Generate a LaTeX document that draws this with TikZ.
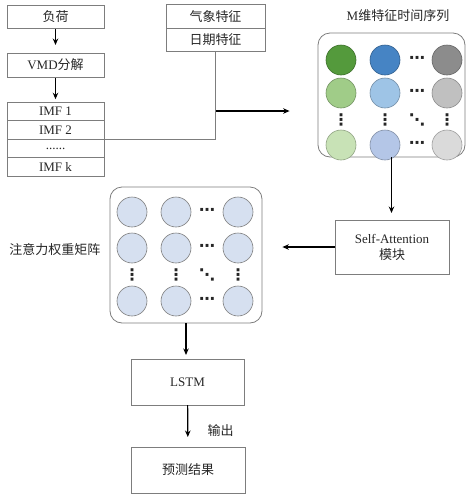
\documentclass[tikz,border=0pt]{standalone}
\usepackage{fontspec}
\setmainfont{Liberation Serif}
\newfontfamily\cjk{Noto Sans CJK SC}
\newfontfamily\dotfont{DejaVu Sans}
\usepackage{tikz}
\usetikzlibrary{arrows.meta, positioning, calc}
\definecolor{boxline}{RGB}{125, 125, 125}
\definecolor{green1}{RGB}{84, 154, 60}
\definecolor{green2}{RGB}{160, 204, 136}
\definecolor{green3}{RGB}{200, 226, 182}
\definecolor{blue1}{RGB}{70, 132, 196}
\definecolor{blue2}{RGB}{158, 196, 230}
\definecolor{blue3}{RGB}{180, 198, 231}
\definecolor{gray1}{RGB}{140, 140, 140}
\definecolor{gray2}{RGB}{192, 192, 192}
\definecolor{gray3}{RGB}{218, 218, 218}
\definecolor{weight}{RGB}{214, 224, 240}

\begin{document}
\begin{tikzpicture}[
    x=1pt, y=-1pt,
    >={Stealth[length=6.5pt, width=5.5pt]},
    every node/.style={font=\fontsize{13}{16}\selectfont, text=black!85},
    stepbox/.style={rectangle, draw=boxline, line width=0.8pt, outer sep=0pt, inner sep=0pt, minimum width=#1, align=center},
    cell/.style={stepbox=97, minimum height=18.5},
    frame/.style={rectangle, rounded corners=12pt, draw=boxline, line width=0.8pt, inner sep=0pt},
    ball/.style={circle, draw=#1!72!black, fill=#1, line width=0.6pt, minimum size=30, inner sep=0pt},
    dotnode/.style={inner sep=0pt, font=\fontsize{16}{16}\dotfont\bfseries},
    arrow/.style={->, line width=1.2pt, black},
    link/.style={line width=0.8pt, boxline}
  ]
  \useasboundingbox (0,0) rectangle (474,499);

  % Input side
  \node[stepbox=97, minimum height=23] (load) at (55.5,16.5) {\cjk 负荷};
  \node[stepbox=97, minimum height=24] (vmd) at (55.5,65) {VMD{\cjk 分解}};
  \node[cell] (imf1) at (55.5,111.5) {IMF 1};
  \node[cell, below=0pt of imf1] (imf2) {IMF 2};
  \node[cell, below=0pt of imf2] (imfd) {......};
  \node[cell, below=0pt of imfd] (imfk) {IMF k};

  \node[stepbox=99, minimum height=23.5] (weather) at (215.5,16.5) {\cjk 气象特征};
  \node[stepbox=99, minimum height=23.5, below=0pt of weather] (date) {\cjk 日期特征};

  % M-dim feature matrix
  \node[frame, minimum width=147, minimum height=124] (feat) at (391.5,95) {};
  \node (feattitle) at (398,16) {M{\cjk 维特征时间序列}};
  \foreach \r/\y in {1/60,2/93,3/145}
    \foreach \c/\x/\h in {1/341/green,2/385/blue,3/447/gray}
      \node[ball=\h\r] (m\r\c) at (\x,\y) {};
  \node[dotnode] (mh1) at (417,60) {⋯};
  \node[dotnode] (mh2) at (417,93) {⋯};
  \node[dotnode] (mh3) at (417,145) {⋯};
  \node[dotnode] (mv1) at (341,120) {⋮};
  \node[dotnode] (mv2) at (385,120) {⋮};
  \node[dotnode] (mv3) at (447,120) {⋮};
  \node[dotnode] (mdd) at (417,120) {⋱};

  % Attention
  \node[stepbox=114, minimum height=54] (sa) at (392,247) {Self-Attention\\{\cjk 模块}};

  \node[frame, minimum width=152, minimum height=136] (att) at (186,255) {};
  \foreach \r/\y in {1/212,2/248,3/301}
    \foreach \c/\x in {1/132,2/176,3/238}
      \node[ball=weight, draw=boxline] (a\r\c) at (\x,\y) {};
  \node[dotnode] (ah1) at (207,212) {⋯};
  \node[dotnode] (ah2) at (207,248) {⋯};
  \node[dotnode] (ah3) at (207,301) {⋯};
  \node[dotnode] (av1) at (132,274.5) {⋮};
  \node[dotnode] (av2) at (176,274.5) {⋮};
  \node[dotnode] (av3) at (238,274.5) {⋮};
  \node[dotnode] (add) at (207,274.5) {⋱};
  \node[anchor=east] (attlabel) at (104,250) {\cjk 注意力权重矩阵};

  % Output side
  \node[stepbox=113, minimum height=46] (lstm) at (187.5,382) {LSTM};
  \node[stepbox=114, minimum height=46] (pred) at (188,470) {\cjk 预测结果};

  % Connectors
  \draw[arrow, shorten <=1pt, shorten >=8pt] (load) -- (vmd);
  \draw[arrow, shorten <=1pt, shorten >=3pt] (vmd) -- (imf1);
  \draw[link] (imf2.south east) -| (date.south);
  \coordinate (tap) at (216,111);
  \draw[arrow, shorten >=28pt] (tap) -- (tap -| feat.west);
  \draw[arrow, shorten >=7pt] (feat.south) -- (feat.south |- sa.north);
  \draw[arrow, shorten >=20pt] (sa.west) -- (sa.west -| att.east);
  \draw[arrow, shorten >=4pt] (att.south) -- (att.south |- lstm.north);
  \draw[arrow, shorten >=10pt] (lstm) -- node[right=16pt, pos=0.6] (out) {\cjk 输出} (pred);

\end{tikzpicture}
\end{document}
